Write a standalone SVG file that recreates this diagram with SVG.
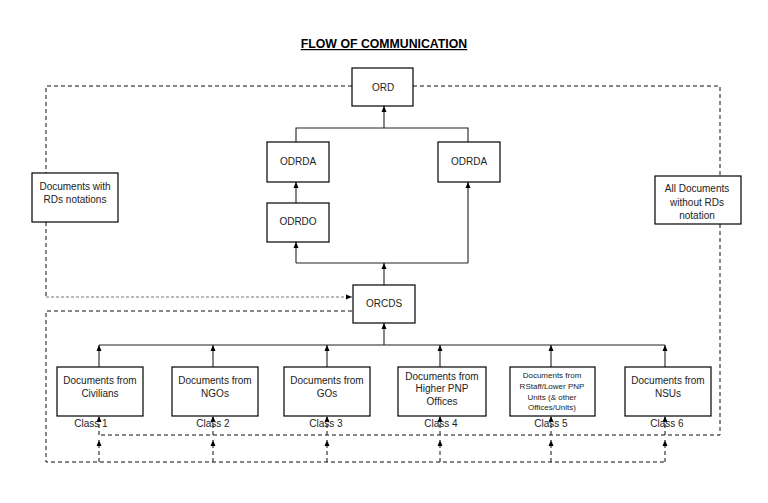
<svg xmlns="http://www.w3.org/2000/svg" width="768" height="503" viewBox="0 0 768 503">
<style>
.box{fill:#fff;stroke:#000;stroke-width:1.2}
.t{font-family:"Liberation Sans",Arial,sans-serif;font-size:10px;fill:#222;text-anchor:middle}
.s{font-family:"Liberation Sans",Arial,sans-serif;font-size:8px;fill:#222;text-anchor:middle}
.ttl{font-family:"Liberation Sans",Arial,sans-serif;font-size:12.3px;font-weight:bold;fill:#000;text-anchor:middle;text-decoration:underline}
.sol{fill:none;stroke:#222;stroke-width:1.1}
.dash{fill:none;stroke:#111;stroke-width:1;stroke-dasharray:4 3}
.dot{fill:none;stroke:#777;stroke-width:1;stroke-dasharray:3 2}
</style>
<defs>
<marker id="ah" markerWidth="6" markerHeight="6" refX="6" refY="3" orient="auto" markerUnits="userSpaceOnUse">
<path d="M0,0.5 L6,3 L0,5.5 z" fill="#000"/>
</marker>
</defs>
<rect width="768" height="503" fill="#fff"/>
<text class="ttl" x="384" y="48">FLOW OF COMMUNICATION</text>

<g id="connectors">
<path class="sol" d="M384,128 L384,106" marker-end="url(#ah)"/>
<path class="sol" d="M296,142 L296,128 L468,128 L468,142"/>
<path class="sol" d="M296,203 L296,182" marker-end="url(#ah)"/>
<path class="sol" d="M296,263 L468,263"/>
<path class="sol" d="M384,285 L384,263" marker-end="url(#ah)"/>
<path class="sol" d="M296,263 L296,242" marker-end="url(#ah)"/>
<path class="sol" d="M468,263 L468,182" marker-end="url(#ah)"/>
<path class="sol" d="M384,345 L384,323" marker-end="url(#ah)"/>
<path class="sol" d="M99,345 L665,345"/>
<path class="sol" d="M99,367 L99,345" marker-end="url(#ah)"/>
<path class="sol" d="M213,367 L213,345" marker-end="url(#ah)"/>
<path class="sol" d="M327,367 L327,345" marker-end="url(#ah)"/>
<path class="sol" d="M440,367 L440,345" marker-end="url(#ah)"/>
<path class="sol" d="M551,367 L551,345" marker-end="url(#ah)"/>
<path class="sol" d="M665,367 L665,345" marker-end="url(#ah)"/>

<path class="dash" d="M352,86 L46,86 L46,173"/>
<path class="dash" d="M46,222 L46,297"/>
<path class="dot" d="M46,297 L352,297" marker-end="url(#ah)"/>
<path class="dash" d="M413,86 L720,86 L720,176"/>
<path class="dash" d="M720,224 L720,435 L99,435"/>
<path class="dash" d="M99,435 L99,416" marker-end="url(#ah)"/>
<path class="dash" d="M213,435 L213,416" marker-end="url(#ah)"/>
<path class="dash" d="M327,435 L327,416" marker-end="url(#ah)"/>
<path class="dash" d="M440,435 L440,416" marker-end="url(#ah)"/>
<path class="dash" d="M551,435 L551,416" marker-end="url(#ah)"/>
<path class="dash" d="M665,435 L665,416" marker-end="url(#ah)"/>
<path class="dash" d="M352,311 L46,311 L46,462 L665,462"/>
<path class="dash" d="M99,462 L99,440" marker-end="url(#ah)"/>
<path class="dash" d="M213,462 L213,440" marker-end="url(#ah)"/>
<path class="dash" d="M327,462 L327,440" marker-end="url(#ah)"/>
<path class="dash" d="M440,462 L440,440" marker-end="url(#ah)"/>
<path class="dash" d="M551,462 L551,440" marker-end="url(#ah)"/>
<path class="dash" d="M665,462 L665,440" marker-end="url(#ah)"/>
</g>

<g id="ord"><rect class="box" x="352" y="68" width="61" height="38"/><text class="t" x="383" y="91">ORD</text></g>
<g id="odrda-left"><rect class="box" x="267" y="142" width="62" height="40"/><text class="t" x="298" y="165">ODRDA</text></g>
<g id="odrdo"><rect class="box" x="267" y="203" width="62" height="39"/><text class="t" x="298" y="225">ODRDO</text></g>
<g id="odrda-right"><rect class="box" x="438" y="142" width="62" height="40"/><text class="t" x="469" y="165">ODRDA</text></g>
<g id="orcds"><rect class="box" x="353" y="285" width="62" height="38"/><text class="t" x="384" y="307">ORCDS</text></g>
<g id="docs-with-rds"><rect class="box" x="32" y="173" width="86" height="49"/><text class="t" x="75" y="190">Documents with</text><text class="t" x="75" y="203">RDs notations</text></g>
<g id="docs-without-rds"><rect class="box" x="655" y="176" width="86" height="48"/><text class="t" x="697" y="192">All Documents</text><text class="t" x="697" y="206">without RDs</text><text class="t" x="697" y="219">notation</text></g>

<g id="class1"><rect class="box" x="57" y="367" width="86" height="49"/><text class="t" x="100" y="384">Documents from</text><text class="t" x="100" y="397">Civilians</text><text class="t" x="91" y="427">Class 1</text></g>
<g id="class2"><rect class="box" x="172" y="367" width="86" height="49"/><text class="t" x="215" y="384">Documents from</text><text class="t" x="215" y="397">NGOs</text><text class="t" x="213" y="427">Class 2</text></g>
<g id="class3"><rect class="box" x="284" y="367" width="86" height="49"/><text class="t" x="327" y="384">Documents from</text><text class="t" x="327" y="397">GOs</text><text class="t" x="326" y="427">Class 3</text></g>
<g id="class4"><rect class="box" x="398" y="367" width="88" height="49"/><text class="t" x="442" y="380">Documents from</text><text class="t" x="442" y="392">Higher PNP</text><text class="t" x="442" y="405">Offices</text><text class="t" x="441" y="427">Class 4</text></g>
<g id="class5"><rect class="box" x="510" y="367" width="85" height="49"/><text class="s" x="552" y="378">Documents from</text><text class="s" x="552" y="389">RStaff/Lower PNP</text><text class="s" x="552" y="400">Units (&amp; other</text><text class="s" x="552" y="410">Offices/Units)</text><text class="t" x="551" y="427">Class 5</text></g>
<g id="class6"><rect class="box" x="625" y="367" width="86" height="49"/><text class="t" x="668" y="384">Documents from</text><text class="t" x="668" y="397">NSUs</text><text class="t" x="667" y="427">Class 6</text></g>
</svg>
